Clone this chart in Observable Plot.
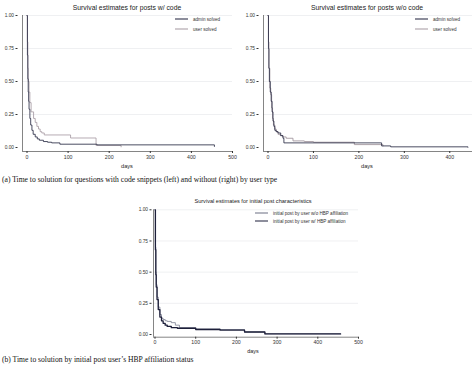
<!DOCTYPE html>
<html>
<head>
<meta charset="utf-8">
<script src="https://cdn.jsdelivr.net/npm/d3@7"></script>
<script src="https://cdn.jsdelivr.net/npm/@observablehq/plot@0.6"></script>
<style>
  html, body { margin: 0; padding: 0; background: #fff; }
  #wrap { position: relative; width: 474px; height: 366px; overflow: hidden; background: #fff; }
  .abs { position: absolute; }
  .ttl { font-family: "Liberation Sans", Arial, sans-serif; color: #222; white-space: nowrap; transform: translate(-50%, -50%); }
  .cap { font-family: "Liberation Serif", "Times New Roman", serif; font-size: 7.6px; color: #111; white-space: nowrap; transform: translateY(-50%); }
  .leg { font-family: "Liberation Sans", Arial, sans-serif; font-size: 4.6px; color: #333; white-space: nowrap; display: flex; align-items: center; transform: translateY(-50%); }
  .leg span.sw { display: inline-block; width: 13px; margin-right: 5px; }
</style>
</head>
<body>
<div id="wrap"></div>
<script>
// ---- Data ----
const yTicks = [0, 0.25, 0.5, 0.75, 1];

// Panel (a) left: posts with code
const codeAdminDays = [0, 1, 2, 3, 4, 5, 7, 9, 12, 15, 20, 25, 30, 40, 50, 60, 80, 170, 456, 456];
const codeAdminSurv = [1, 0.7, 0.52, 0.42, 0.35, 0.29, 0.22, 0.17, 0.13, 0.1, 0.08, 0.065, 0.055, 0.045, 0.04, 0.035, 0.025, 0.02, 0.02, 0.008];
const codeUserDays = [0, 1, 2, 3, 5, 7, 10, 16, 20, 24, 28, 32, 36, 42, 106, 168, 229, 229];
const codeUserSurv = [1, 0.8, 0.6, 0.5, 0.42, 0.34, 0.27, 0.22, 0.19, 0.16, 0.14, 0.12, 0.11, 0.095, 0.072, 0.015, 0.015, 0.005];

// Panel (a) right: posts without code
const nocodeAdminDays = [0, 1, 2, 3, 5, 7, 9, 11, 13, 15, 18, 22, 28, 33, 35, 250, 270, 440, 440];
const nocodeAdminSurv = [1, 0.75, 0.6, 0.5, 0.42, 0.35, 0.27, 0.2, 0.16, 0.13, 0.12, 0.11, 0.09, 0.07, 0.035, 0.012, 0.005, 0.005, 0.002];
const nocodeUserDays = [0, 1, 2, 4, 6, 8, 10, 12, 15, 18, 22, 27, 32, 40, 55, 80, 100, 190, 253, 253];
const nocodeUserSurv = [1, 0.8, 0.6, 0.45, 0.4, 0.3, 0.22, 0.17, 0.14, 0.12, 0.1, 0.09, 0.08, 0.07, 0.05, 0.045, 0.04, 0.022, 0.022, 0.012];

// Panel (b): HBP affiliation
const noHbpDays = [0, 1, 2, 3, 5, 8, 12, 16, 20, 25, 30, 40, 50, 60, 100, 160, 220, 270, 456];
const noHbpSurv = [1, 0.7, 0.5, 0.4, 0.3, 0.22, 0.16, 0.13, 0.12, 0.11, 0.105, 0.095, 0.075, 0.055, 0.045, 0.04, 0.02, 0.005, 0.005];
const hbpDays = [0, 1, 2, 3, 5, 8, 12, 16, 20, 25, 30, 40, 55, 100, 160, 220, 270, 456];
const hbpSurv = [1, 0.68, 0.48, 0.38, 0.28, 0.2, 0.14, 0.11, 0.09, 0.075, 0.065, 0.055, 0.05, 0.04, 0.035, 0.02, 0.005, 0.005];

const labelsAdmin = ["admin solved", "user solved"];
const labelsHbp = ["initial post by user w/o HBP affiliation", "initial post by user w/ HBP affiliation"];
const xLabel = "days";

const DARK = "#1d1f3a";
const GREY = "#a3979f";

function series(days, surv, key) {
  return days.map((d, i) => ({ day: d, s: surv[i], key }));
}

const wrap = document.getElementById("wrap");

function panel(opts) {
  const { left, top, width, height, mL, mR, mT, mB, iL, iB, xDomain, xTicks, lines } = opts;
  const marks = [
    Plot.gridY(yTicks.filter(t => t > 0), { stroke: "#e4e6ea", strokeOpacity: 1, strokeWidth: 0.6 }),
    Plot.ruleX([xDomain[0]], { dx: -iL, stroke: "#333", strokeWidth: 0.6 }),
    Plot.ruleY([0], { dy: iB, stroke: "#333", strokeWidth: 0.6 }),
    Plot.axisY({ ticks: yTicks, tickFormat: d3.format(".2f"), tickSize: 2, tickPadding: 2, dx: -iL, fontSize: 4.8, label: null }),
    Plot.axisX({ ticks: xTicks, tickSize: 2, tickPadding: 1.5, fontSize: 5.2, label: null })
  ];
  for (const l of lines) {
    marks.push(Plot.line(series(l.days, l.surv, l.key), { x: "day", y: "s", curve: "step-after", stroke: l.color, strokeWidth: l.w }));
  }
  const svg = Plot.plot({
    width, height,
    marginLeft: mL, marginRight: mR, marginTop: mT, marginBottom: mB,
    x: { domain: xDomain, insetLeft: iL },
    y: { domain: [0, 1], insetBottom: iB },
    style: { fontFamily: "Liberation Sans, Arial, sans-serif", color: "#333", background: "transparent", overflow: "visible" },
    marks
  });
  svg.style.position = "absolute";
  svg.style.left = left + "px";
  svg.style.top = top + "px";
  wrap.appendChild(svg);
}

function addText(cls, text, x, y, size) {
  const d = document.createElement("div");
  d.className = "abs " + cls;
  d.textContent = text;
  d.style.left = x + "px";
  d.style.top = y + "px";
  if (size) d.style.fontSize = size + "px";
  wrap.appendChild(d);
}

function addLegend(x, y, label, color, w) {
  const d = document.createElement("div");
  d.className = "abs leg";
  d.style.left = x + "px";
  d.style.top = y + "px";
  const sw = document.createElement("span");
  sw.className = "sw";
  sw.style.borderTop = w + "px solid " + color;
  d.appendChild(sw);
  d.appendChild(document.createTextNode(label));
  wrap.appendChild(d);
}

// Panel (a) left
panel({
  left: 0, top: 0, width: 237, height: 172,
  mL: 22, mR: 5, mT: 15, mB: 21, iL: 4.5, iB: 4,
  xDomain: [0, 500], xTicks: [0, 100, 200, 300, 400, 500],
  lines: [
    { days: codeUserDays, surv: codeUserSurv, key: labelsAdmin[1], color: GREY, w: 0.8 },
    { days: codeAdminDays, surv: codeAdminSurv, key: labelsAdmin[0], color: DARK, w: 0.8 }
  ]
});
addText("ttl", "Survival estimates for posts w/ code", 127, 6.5, 6.8);
addText("ttl", xLabel, 127, 166, 5.6);
addLegend(175, 19, labelsAdmin[0], DARK, 1);
addLegend(175, 29, labelsAdmin[1], GREY, 1);

// Panel (a) right
panel({
  left: 237, top: 0, width: 237, height: 172,
  mL: 26, mR: 2, mT: 15, mB: 21, iL: 4.5, iB: 4,
  xDomain: [0, 450], xTicks: [0, 100, 200, 300, 400],
  lines: [
    { days: nocodeUserDays, surv: nocodeUserSurv, key: labelsAdmin[1], color: GREY, w: 0.9 },
    { days: nocodeAdminDays, surv: nocodeAdminSurv, key: labelsAdmin[0], color: DARK, w: 0.8 }
  ]
});
addText("ttl", "Survival estimates for posts w/o code", 367, 6.5, 6.8);
addText("ttl", xLabel, 367, 166, 5.6);
addLegend(415, 19, labelsAdmin[0], DARK, 1);
addLegend(415, 29, labelsAdmin[1], GREY, 1);

addText("cap", "(a) Time to solution for questions with code snippets (left) and without (right) by user type", 2, 178.5);

// Panel (b)
panel({
  left: 120, top: 190, width: 240, height: 166,
  mL: 33, mR: 2, mT: 19.3, mB: 19.3, iL: 1.5, iB: 2.7,
  xDomain: [0, 500], xTicks: [0, 100, 200, 300, 400, 500],
  lines: [
    { days: noHbpDays, surv: noHbpSurv, key: labelsHbp[0], color: "#6a6f82", w: 0.7 },
    { days: hbpDays, surv: hbpSurv, key: labelsHbp[1], color: DARK, w: 1.3 }
  ]
});
addText("ttl", "Survival estimates for initial post characteristics", 253, 200.5, 5.6);
addText("ttl", xLabel, 253, 350.5, 5.4);
addLegend(255, 212.7, labelsHbp[0], "#6a6f82", 0.7);
addLegend(255, 221.3, labelsHbp[1], DARK, 1.5);

addText("cap", "(b) Time to solution by initial post user\u2019s HBP affiliation status", 2, 359);
</script>
</body>
</html>
